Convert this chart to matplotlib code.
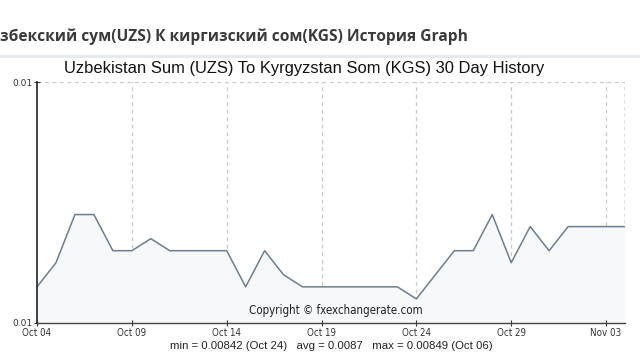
import matplotlib
matplotlib.use("Agg")
import matplotlib.pyplot as plt
import numpy as np

days = ["Oct 04", "Oct 05", "Oct 06", "Oct 07", "Oct 08", "Oct 09", "Oct 10", "Oct 11",
        "Oct 12", "Oct 13", "Oct 14", "Oct 15", "Oct 16", "Oct 17", "Oct 18", "Oct 19",
        "Oct 20", "Oct 21", "Oct 22", "Oct 23", "Oct 24", "Oct 25", "Oct 26", "Oct 27",
        "Oct 28", "Oct 29", "Oct 30", "Oct 31", "Nov 01", "Nov 02", "Nov 03", "Nov 04"]
rates = [0.00843, 0.00845, 0.00849, 0.00849, 0.00846, 0.00846, 0.00847, 0.00846,
         0.00846, 0.00846, 0.00846, 0.00843, 0.00846, 0.00844, 0.00843, 0.00843,
         0.00843, 0.00843, 0.00843, 0.00843, 0.00842, 0.00844, 0.00846, 0.00846,
         0.00849, 0.00845, 0.00848, 0.00846, 0.00848, 0.00848, 0.00848, 0.00848]
tick_labels = ["Oct 04", "Oct 09", "Oct 14", "Oct 19", "Oct 24", "Oct 29", "Nov 03"]
y_ticks = [0.0084, 0.0086]
y_tick_labels = ["0.01", "0.01"]

header = "збекский сум(UZS) К киргизский сом(KGS) История Graph"
title = "Uzbekistan Sum (UZS) To Kyrgyzstan Som (KGS) 30 Day History"
stats = "min = 0.00842 (Oct 24)   avg = 0.0087   max = 0.00849 (Oct 06)"
copyright_text = "Copyright © fxexchangerate.com"

fig = plt.figure(figsize=(6.4, 3.6), dpi=100)
fig.patch.set_facecolor("white")

# header
fig.text(0.0, 0.897, header, fontsize=11.2, fontweight="bold", color="#3a3a3a",
         family=["Open Sans", "DejaVu Sans"], ha="left", va="center")
fig.add_artist(plt.Rectangle((0, 0.838), 1, 0.009, transform=fig.transFigure,
                             color="#e6eaed", lw=0))

ax = fig.add_axes([0.0578, 0.1028, 0.9188, 0.6694])
x = np.arange(len(days))
ax.fill_between(x, rates, 0.0084, color="#f7f8f9", lw=0)
ax.plot(x, rates, color="#6b7f8e", lw=1.1)
ax.set_xlim(0, len(days) - 1)
ax.set_ylim(0.0084, 0.0086)

tick_pos = [days.index(t) for t in tick_labels]
ax.set_xticks(tick_pos)
ax.set_xticklabels(tick_labels, fontsize=7, color="#333333", family="DejaVu Sans",
                   fontstretch="condensed")
ax.set_yticks(y_ticks)
ax.set_yticklabels(y_tick_labels, fontsize=6.5, color="#333333")
ax.tick_params(axis="both", length=3, width=0.8, pad=1, colors="#333333")
ax.tick_params(axis="x", direction="inout", length=5)
ax.tick_params(axis="y", direction="inout", length=4)

for p in tick_pos[1:]:
    ax.axvline(p, color="#c8c8c8", lw=0.9, ls=(0, (3, 3)), zorder=0)
ax.axvline(len(days) - 1 - 0.05, color="#dddddd", lw=0.8, ls=(0, (3, 3)), zorder=0)
ax.axhline(0.0086, color="#c8c8c8", lw=0.9, ls=(0, (3, 3)), zorder=0)

ax.spines["top"].set_visible(False)
ax.spines["right"].set_visible(False)
ax.spines["left"].set_color("#222222")
ax.spines["bottom"].set_color("#444444")
ax.spines["left"].set_linewidth(1.2)
ax.spines["bottom"].set_linewidth(1.0)

ax.text(0.508, 0.052, copyright_text, transform=ax.transAxes, fontsize=8.3,
        color="#222222", ha="center", va="center", fontstretch="condensed")

fig.text(0.475, 0.81, title, fontsize=11.9, color="#111111",
         family=["Liberation Sans"], ha="center", va="center")
fig.text(0.518, 0.038, stats, fontsize=8.2, color="#222222",
         family=["Liberation Sans"], ha="center", va="center")

fig.savefig("out.png", dpi=100, facecolor="white")
